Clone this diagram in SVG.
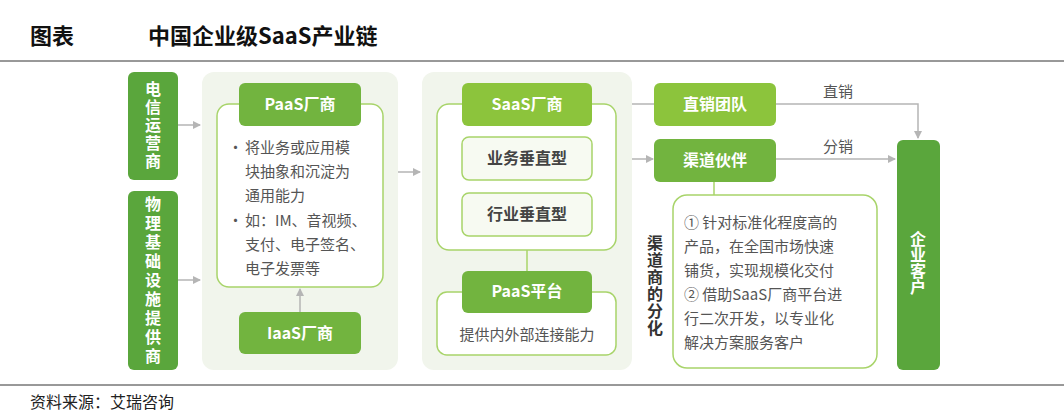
<svg xmlns="http://www.w3.org/2000/svg" width="1064" height="419" viewBox="0 0 1064 419">
<style>
text{font-family:"Noto Sans CJK SC","Noto Sans",sans-serif}
.dk{fill:#5aa63c}.lt{fill:#8cc43c}.md{fill:#72b43f}
.pan{fill:#f1f5ec}
.box{fill:#fff;stroke:#a8d46a;stroke-width:1.5}
.sub{fill:#f7faf2;stroke:#a8d46a;stroke-width:1.5}
.wt{fill:#fff;font-weight:bold;font-size:16px;text-anchor:middle}
.vt{fill:#fff;font-weight:bold;font-size:16px;writing-mode:vertical-rl;text-anchor:middle}
.gt{fill:#555;font-size:15px}
.bt{fill:#444;font-weight:bold;font-size:16px;text-anchor:middle}
.cn{stroke:#b5b5b5;stroke-width:1.5;fill:none}
.gl{stroke:#a8d46a;stroke-width:1.5;fill:none}
</style>
<defs><marker id="a" markerWidth="8" markerHeight="8" refX="7" refY="4" orient="auto" markerUnits="userSpaceOnUse"><path d="M0,0 L8,4 L0,8z" fill="#b5b5b5"/></marker></defs>
<text x="30" y="44" font-size="22" font-weight="bold" fill="#111">图表</text>
<text x="148" y="44" font-size="22" font-weight="bold" fill="#111">中国企业级SaaS产业链</text>
<line x1="0" y1="61" x2="1064" y2="61" stroke="#333" stroke-width="1"/>
<line x1="0" y1="385" x2="1064" y2="385" stroke="#333" stroke-width="1"/>
<text x="30" y="408" font-size="16" fill="#222">资料来源：艾瑞咨询</text>
<rect class="pan" x="202" y="72" width="196" height="298" rx="12"/>
<rect class="pan" x="422" y="72" width="210" height="298" rx="12"/>
<g id="connectors">
<line class="cn" x1="178" y1="125" x2="200" y2="125" marker-end="url(#a)"/>
<line class="cn" x1="178" y1="280" x2="200" y2="280" marker-end="url(#a)"/>
<line class="cn" x1="300" y1="312" x2="300" y2="289" marker-end="url(#a)"/>
<line class="cn" x1="398" y1="172" x2="420" y2="172" marker-end="url(#a)"/>
<line class="cn" x1="632" y1="104" x2="654" y2="104"/>
<line class="cn" x1="632" y1="159" x2="653" y2="159" marker-end="url(#a)"/>
<polyline class="cn" points="776,104 918,104 918,138" marker-end="url(#a)"/>
<line class="cn" x1="776" y1="159" x2="895" y2="159" marker-end="url(#a)"/>
<line class="gl" x1="527" y1="250" x2="527" y2="271"/>
<line class="gl" x1="714" y1="182" x2="714" y2="195"/>
<text x="838" y="97" class="gt" text-anchor="middle" font-size="16">直销</text>
<text x="838" y="152" class="gt" text-anchor="middle" font-size="16">分销</text>
</g>
<g id="telecom"><rect class="dk" x="128" y="72" width="50" height="108" rx="6"/>
<text class="vt" x="153" y="126" letter-spacing="2">电信运营商</text></g>
<g id="infra"><rect class="dk" x="128" y="191" width="50" height="179" rx="6"/>
<text class="vt" x="153" y="281" letter-spacing="3">物理基础设施提供商</text></g>
<g id="paas"><rect class="box" x="217" y="104" width="166" height="183" rx="12"/>
<rect class="md" x="239" y="83" width="122" height="43" rx="6"/><text class="wt" x="300" y="110">PaaS厂商</text>
<text class="gt" x="228" y="153">•</text><text class="gt" x="245" y="153">将业务或应用模</text>
<text class="gt" x="245" y="177">块抽象和沉淀为</text><text class="gt" x="245" y="201">通用能力</text>
<text class="gt" x="228" y="226">•</text><text class="gt" x="245" y="226">如：IM、音视频、</text>
<text class="gt" x="245" y="250">支付、电子签名、</text><text class="gt" x="245" y="274">电子发票等</text></g>
<g id="iaas"><rect class="md" x="239" y="312" width="122" height="42" rx="6"/><text class="wt" x="300" y="339">IaaS厂商</text></g>
<g id="saas"><rect class="box" x="437" y="104" width="179" height="146" rx="12"/>
<rect class="lt" x="462" y="83" width="130" height="43" rx="6"/><text class="wt" x="527" y="110">SaaS厂商</text>
<rect class="sub" x="462" y="137" width="130" height="43" rx="7"/><text class="bt" x="527" y="164">业务垂直型</text>
<rect class="sub" x="462" y="193" width="130" height="43" rx="7"/><text class="bt" x="527" y="220">行业垂直型</text></g>
<g id="paasplat"><rect class="box" x="437" y="292" width="179" height="63" rx="10"/>
<rect class="md" x="462" y="271" width="130" height="42" rx="6"/><text class="wt" x="527" y="297">PaaS平台</text>
<text class="gt" x="527" y="340" text-anchor="middle">提供内外部连接能力</text></g>
<g id="direct"><rect class="lt" x="654" y="83" width="122" height="43" rx="6"/><text class="wt" x="715" y="110">直销团队</text></g>
<g id="channel"><rect class="md" x="654" y="139" width="122" height="43" rx="6"/><text class="wt" x="715" y="166">渠道伙伴</text></g>
<g id="note"><rect class="box" x="673" y="195" width="204" height="173" rx="14"/>
<text class="gt" x="684" y="228">① 针对标准化程度高的</text><text class="gt" x="684" y="252">产品，在全国市场快速</text>
<text class="gt" x="684" y="276">铺货，实现规模化交付</text><text class="gt" x="684" y="300">② 借助SaaS厂商平台进</text>
<text class="gt" x="684" y="324">行二次开发，以专业化</text><text class="gt" x="684" y="348">解决方案服务客户</text></g>
<g id="diff"><text x="655" y="286" fill="#333" font-weight="bold" font-size="16" style="writing-mode:vertical-rl" text-anchor="middle" letter-spacing="1">渠道商的分化</text></g>
<g id="customer"><rect class="dk" x="897" y="140" width="43" height="230" rx="6"/>
<text class="vt" x="918" y="263">企业客户</text></g>
</svg>
